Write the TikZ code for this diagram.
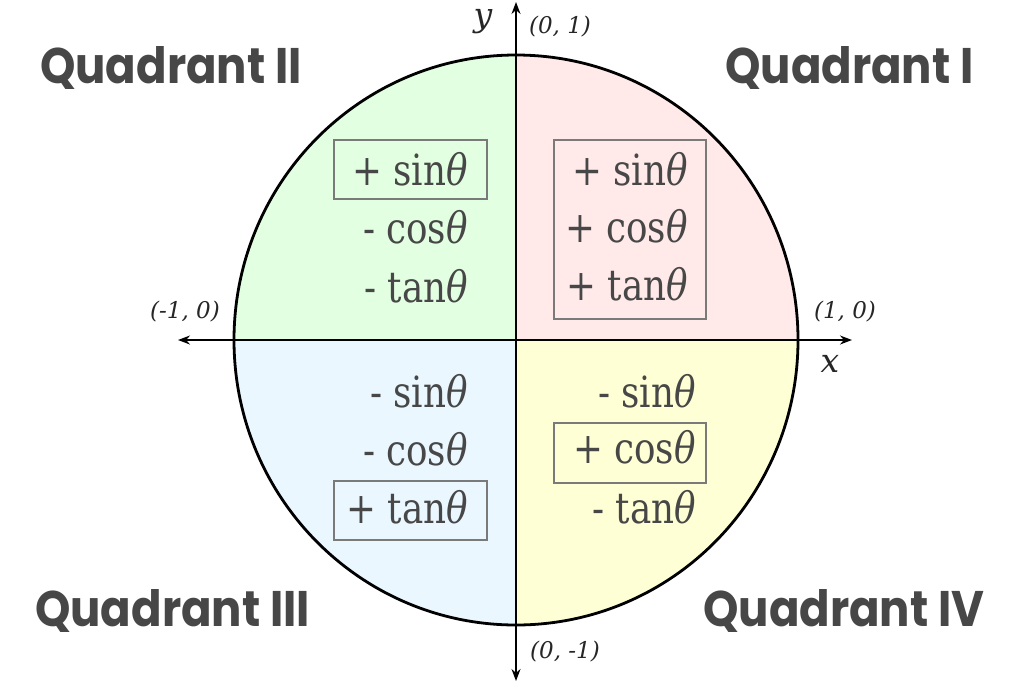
\documentclass[tikz,border=0pt]{standalone}
\usepackage{fontspec}
\usetikzlibrary{arrows.meta}
\newfontfamily\trigfont[FakeStretch=0.83]{DejaVu Serif}
\newfontfamily\coordfont{DejaVu Serif}
\newfontfamily\quadfont[FakeStretch=0.9]{Poppins}
\definecolor{txt}{HTML}{474747}
\definecolor{boxc}{HTML}{7A7A7A}
\definecolor{qone}{HTML}{FFE9E9}
\definecolor{qtwo}{HTML}{E2FFE2}
\definecolor{qthree}{HTML}{EAF7FF}
\definecolor{qfour}{HTML}{FFFFD5}
\begin{document}
\begin{tikzpicture}[x=1pt,y=-1pt,
  trig/.style={font=\trigfont\fontsize{43}{48}\selectfont, text=txt, inner sep=0pt, anchor=base east},
  quad/.style={font=\quadfont\bfseries\fontsize{50}{56}\selectfont, text=txt, inner sep=0pt, anchor=base west},
  coordlbl/.style={font=\coordfont\itshape\fontsize{23}{27}\selectfont, text=black!85, inner sep=0pt},
  axislbl/.style={font=\coordfont\itshape\fontsize{33}{38}\selectfont, text=black!85, inner sep=0pt},
  sgnbox/.style={draw=boxc, line width=1.3pt},
  axisline/.style={line width=1.6pt, -{Stealth[length=12pt,width=9pt]}},
  rim/.style={line width=2.8pt}
]
\useasboundingbox (0,0) rectangle (1024,683);
\fill[white] (0,0) rectangle (1024,683);
% quadrant fills
\begin{scope}
  \clip (516,340) ellipse [x radius=282pt, y radius=285pt];
  \fill[qone]   (516,340) rectangle (800,50);
  \fill[qtwo]   (516,340) rectangle (230,50);
  \fill[qthree] (516,340) rectangle (230,630);
  \fill[qfour]  (516,340) rectangle (800,630);
\end{scope}
\draw[rim] (516,340) ellipse [x radius=282pt, y radius=285pt];
% axes
\coordinate (o) at (516,340);
\coordinate (ytop) at (516,2);
\coordinate (ybot) at (516,681);
\coordinate (xl) at (178,340);
\coordinate (xr) at (852,340);
\draw[axisline] (o) -- (ytop);
\draw[axisline] (o) -- (ybot);
\draw[axisline] (o) -- (xl);
\draw[axisline] (o) -- (xr);
% axis labels
\node[axislbl] (ylbl) at (483,22) {y};
\node[axislbl] (xlbl) at (830,364) {x};
\node[coordlbl] (p01) at (560,27) {(0, 1)};
\node[coordlbl] (pm10) at (185,312) {(-1, 0)};
\node[coordlbl] (p10) at (845,312) {(1, 0)};
\node[coordlbl] (p0m1) at (565,652) {(0, -1)};
% boxes
\draw[sgnbox] (334,140) rectangle (487,199);
\draw[sgnbox] (554,140) rectangle (706,319);
\draw[sgnbox] (334,481) rectangle (487,540);
\draw[sgnbox] (554,423) rectangle (706,483);
% Quadrant II
\node[trig] (a1) at (468,185) {+ sin{\itshape θ}};
\node[trig] (a2) at (468,243) {- cos{\itshape θ}};
\node[trig] (a3) at (468,302) {- tan{\itshape θ}};
% Quadrant I
\node[trig] (b1) at (688,185) {+ sin{\itshape θ}};
\node[trig] (b2) at (688,242) {+ cos{\itshape θ}};
\node[trig] (b3) at (688,300) {+ tan{\itshape θ}};
% Quadrant III
\node[trig] (c1) at (468,407) {- sin{\itshape θ}};
\node[trig] (c2) at (468,465) {- cos{\itshape θ}};
\node[trig] (c3) at (468,523) {+ tan{\itshape θ}};
% Quadrant IV
\node[trig] (d1) at (696,407) {- sin{\itshape θ}};
\node[trig] (d2) at (696,463) {+ cos{\itshape θ}};
\node[trig] (d3) at (696,523) {- tan{\itshape θ}};
% quadrant names
\node[quad] (q2) at (40,83) {Quadrant II};
\node[quad] (q1) at (725,83) {Quadrant I};
\node[quad] (q3) at (35,626) {Quadrant III};
\node[quad] (q4) at (703,626) {Quadrant IV};
\end{tikzpicture}
\end{document}
